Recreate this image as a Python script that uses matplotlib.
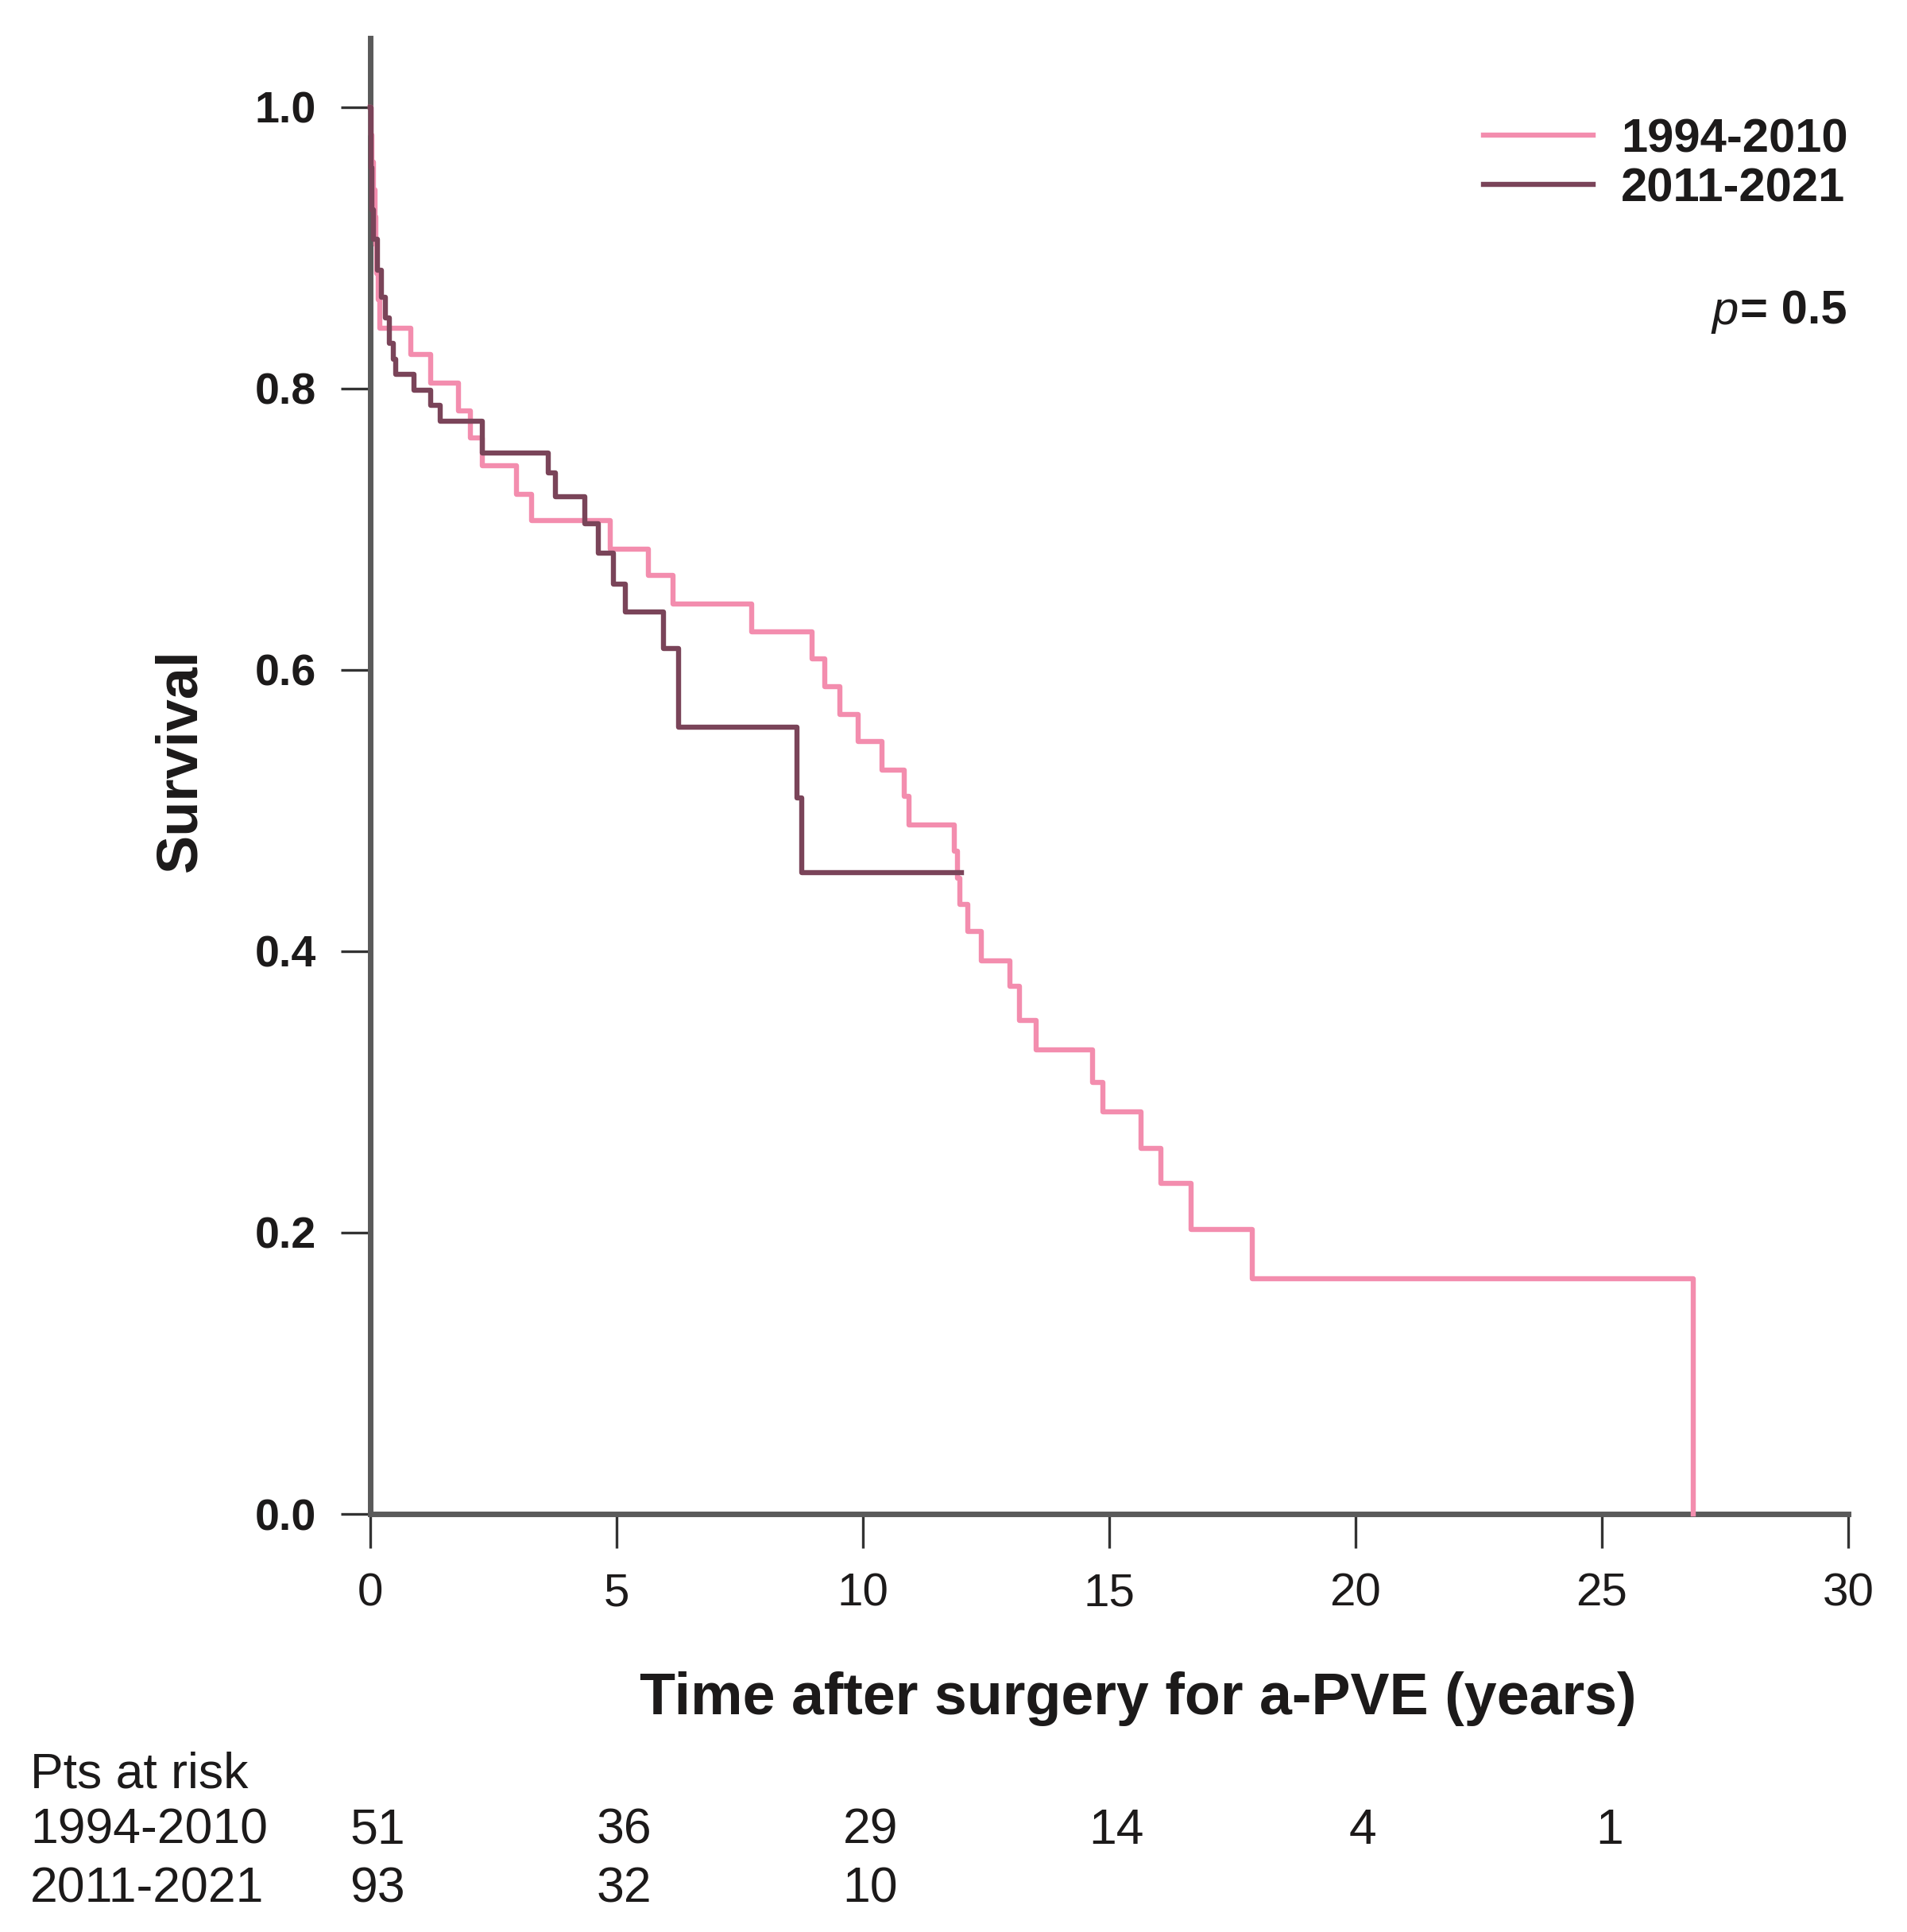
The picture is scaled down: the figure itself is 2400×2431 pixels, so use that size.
import matplotlib
matplotlib.use("Agg")
import matplotlib.pyplot as plt
import matplotlib.transforms as mtransforms

plt.rcParams['font.family'] = ['Liberation Sans', 'DejaVu Sans']

# Kaplan-Meier steps (time in years, survival)
pink_t = [0, 0.02, 0.04, 0.06, 0.09, 0.11, 0.13, 0.16, 0.19, 0.83, 1.23, 1.79, 2.03,
          2.28, 2.96, 3.27, 4.87, 5.65, 6.14, 7.74, 8.96, 9.22, 9.54, 9.91, 10.38,
          10.84, 10.94, 11.86, 11.92, 11.97, 12.13, 12.40, 12.99, 13.18, 13.52, 14.66,
          14.87, 15.65, 16.05, 16.66, 17.90, 26.85]
pink_s = [1.0, 0.980, 0.961, 0.941, 0.922, 0.902, 0.882, 0.863, 0.843, 0.824, 0.804,
          0.784, 0.765, 0.745, 0.725, 0.706, 0.686, 0.667, 0.647, 0.627, 0.608, 0.588,
          0.568, 0.549, 0.529, 0.510, 0.490, 0.471, 0.452, 0.433, 0.414, 0.393, 0.375,
          0.351, 0.330, 0.307, 0.286, 0.260, 0.235, 0.202, 0.167, 0.0]

dark_t = [0, 0.01, 0.03, 0.06, 0.14, 0.22, 0.30, 0.38, 0.46, 0.52, 0.89, 1.23, 1.42,
          2.28, 3.61, 3.76, 4.35, 4.63, 4.94, 5.18, 5.95, 6.26, 8.66, 8.76, 12.0]
dark_s = [1.0, 0.957, 0.927, 0.906, 0.884, 0.865, 0.850, 0.832, 0.821, 0.810, 0.799,
          0.788, 0.777, 0.754, 0.740, 0.723, 0.704, 0.683, 0.661, 0.641, 0.615, 0.559,
          0.509, 0.456, 0.456]

groups = ["1994-2010", "2011-2021"]
risk_times = [0, 5, 10, 15, 20, 25]
risk_pink = [51, 36, 29, 14, 4, 1]
risk_dark = [93, 32, 10]

x_ticks = [0, 5, 10, 15, 20, 25, 30]
y_ticks = [0.0, 0.2, 0.4, 0.6, 0.8, 1.0]

PINK = "#F38DAE"
DARK = "#7A4459"
TXT = "#1c1a1a"

W, H = 2400, 2431
fig = plt.figure(figsize=(W / 100, H / 100), dpi=100)
fig.patch.set_facecolor("white")

def fx(px):
    return px / W

def fy(py):
    return 1 - py / H

ax = fig.add_axes([fx(466), fy(1905), fx(2326) - fx(466), fy(48) - fy(1905)])
ax.step(pink_t, pink_s, where="post", color=PINK, lw=4.6, label=groups[0], clip_on=False, zorder=3)
ax.step(dark_t, dark_s, where="post", color=DARK, lw=4.6, label=groups[1], clip_on=False, zorder=4)

ax.set_xlim(0, 30)
ax.set_ylim(0, 1.049)
for s in ["top", "right"]:
    ax.spines[s].set_visible(False)
for s in ["left", "bottom"]:
    ax.spines[s].set_color("#5a5a5a")
    ax.spines[s].set_linewidth(5)
ax.spines["bottom"].set_bounds(0, 30)

ax.set_xticks(x_ticks)
ax.set_yticks(y_ticks)
ax.set_yticklabels(["%.1f" % v for v in y_ticks], fontweight="bold", fontsize=40, color=TXT)
ax.set_xticklabels([str(v) for v in x_ticks], fontsize=42, color=TXT)
ax.tick_params(axis="y", length=27, width=2.4, color="#333333", pad=22)
ax.tick_params(axis="x", length=31, width=2.4, color="#333333", pad=22)

fig.text(fx(227), fy(957), "Survival", rotation=90, ha="center", va="center",
         fontsize=52, fontweight="bold", color=TXT)
fig.text(fx(1432), fy(2157), "Time after surgery for a-PVE (years)", ha="center",
         va="baseline", fontsize=53, fontweight="bold", color=TXT)

leg = ax.legend(loc="upper right", bbox_to_anchor=(1.0, (1905 - 148) / 1857),
                frameon=False, prop={"size": 43, "weight": "bold"},
                handlelength=2.3, handletextpad=0.6, labelspacing=0.12,
                borderpad=0, borderaxespad=0)
for t in leg.get_texts():
    t.set_color(TXT)
for ln in leg.get_lines():
    ln.set_linewidth(4.6)

# p value: italic p followed by bold "= 0.5"
pv = fig.text(fx(2325), fy(408), "= 0.5", ha="right", va="baseline",
              fontsize=43, fontweight="bold", color=TXT)
fig.canvas.draw()
bb = pv.get_window_extent()
fig.text(bb.x0 / W - 0.001, fy(408), "p", ha="right", va="baseline",
         fontsize=43, fontstyle="italic", color=TXT)

# numbers at risk
trans = mtransforms.blended_transform_factory(ax.transData, fig.transFigure)
fig.text(fx(38), fy(2249), "Pts at risk", ha="left", va="baseline", fontsize=45, color=TXT)
fig.text(fx(38), fy(2320), groups[0], ha="left", va="baseline", fontsize=45, color=TXT)
fig.text(fx(38), fy(2394), groups[1], ha="left", va="baseline", fontsize=45, color=TXT)
for t, n in zip(risk_times, risk_pink):
    ax.text(t + 0.15, fy(2320), str(n), transform=trans, ha="center", va="baseline",
            fontsize=45, color=TXT)
for t, n in zip(risk_times, risk_dark):
    ax.text(t + 0.15, fy(2394), str(n), transform=trans, ha="center", va="baseline",
            fontsize=45, color=TXT)

fig.savefig("out.png", dpi=100, facecolor="white")
